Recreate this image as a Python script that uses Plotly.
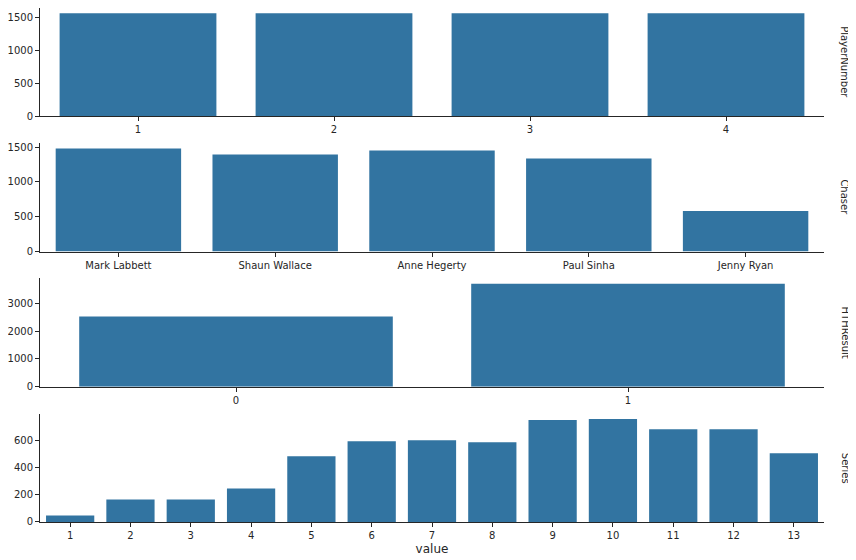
import plotly.graph_objects as go
from plotly.subplots import make_subplots

# count of rows per value, one facet per variable
player_numbers = ["1", "2", "3", "4"]
player_counts = [1561, 1561, 1561, 1561]

chasers = ["Mark Labbett", "Shaun Wallace", "Anne Hegerty", "Paul Sinha", "Jenny Ryan"]
chaser_counts = [1481, 1394, 1452, 1336, 581]

hth_results = ["0", "1"]
hth_counts = [2530, 3714]

series = [str(i) for i in range(1, 14)]
series_counts = [47, 165, 165, 247, 484, 595, 602, 587, 752, 760, 684, 684, 506]

facets = [
    ("PlayerNumber", player_numbers, player_counts, 500),
    ("Chaser", chasers, chaser_counts, 500),
    ("HTHResult", hth_results, hth_counts, 1000),
    ("Series", series, series_counts, 200),
]

bar_color = "#3274A1"
text_color = "#262626"

fig = make_subplots(rows=4, cols=1, vertical_spacing=0.0525)

for i, (name, cats, counts, step) in enumerate(facets, start=1):
    fig.add_trace(
        go.Bar(x=cats, y=counts, marker_color=bar_color, marker_line_width=0,
               showlegend=False),
        row=i, col=1,
    )
    fig.update_xaxes(
        type="category", categoryorder="array", categoryarray=cats,
        range=[-0.5, len(cats) - 0.5], automargin=False,
        showline=True, linecolor=text_color, linewidth=1,
        ticks="outside", ticklen=4, tickcolor=text_color,
        showgrid=False, zeroline=False,
        row=i, col=1,
    )
    fig.update_yaxes(
        range=[0, max(counts) * 1.05], dtick=step, automargin=False,
        showline=True, linecolor=text_color, linewidth=1,
        ticks="outside", ticklen=4, tickcolor=text_color,
        showgrid=False, zeroline=False,
        row=i, col=1,
    )
    # facet label on the right
    yref = "y domain" if i == 1 else f"y{i} domain"
    fig.add_annotation(
        text=name, textangle=90, showarrow=False,
        xref="paper", x=1, xshift=21, xanchor="center",
        yref=yref, y=0.5, yanchor="middle",
        font=dict(size=10, color=text_color),
    )

fig.update_xaxes(title_text="value", title_standoff=4, row=4, col=1)

# page body adds an 8px margin, so the figure is a bit smaller than the window
fig.update_layout(
    width=848, height=552,
    margin=dict(l=32, r=32, t=0, b=38),
    bargap=0.2,
    plot_bgcolor="white",
    paper_bgcolor="white",
    font=dict(family="DejaVu Sans", size=10, color=text_color),
)

fig.write_html("out.html")
